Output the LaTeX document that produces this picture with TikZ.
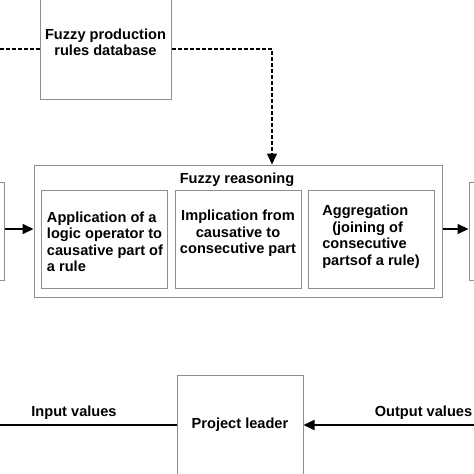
\documentclass[tikz,border=0pt]{standalone}
\usepackage{fontspec}
\setmainfont{Liberation Sans}
\usetikzlibrary{arrows.meta}
\definecolor{boxgray}{HTML}{8E8E8E}
\begin{document}
\begin{tikzpicture}[x=1pt,y=-1pt,
  font=\bfseries\fontsize{14.6}{16.5}\selectfont,
  gbox/.style={draw=boxgray,line width=1pt,inner sep=0pt,fill=none},
  conn/.style={draw=black,line width=1.6pt},
  tip/.style={-{Triangle[length=11pt,width=10pt]}},
  dashline/.style={conn,dash pattern=on 4pt off 2pt},
  txt/.style={inner sep=0pt,align=center}]
\useasboundingbox (0,0) rectangle (474,474);
\clip (0,0) rectangle (474,474);
% boxes
\node[gbox,minimum width=131pt,minimum height=113pt] (db) at (105.5,42.5) {};
\node[txt] (dbt) at (105.5,42.5) {Fuzzy production\\rules database};
\node[gbox,minimum width=408pt,minimum height=132pt] (reason) at (238,231) {};
\node[txt] (rtitle) at (237,180) {Fuzzy reasoning};
\node[gbox,minimum width=126pt,minimum height=98pt] (b1) at (104,239) {};
\node[gbox,minimum width=126pt,minimum height=98pt] (b2) at (238,239) {};
\node[gbox,minimum width=126pt,minimum height=98pt] (b3) at (371,239) {};
\node[txt,align=left] (b1t) at (105,242) {Application of a\\logic operator to\\causative part of\\a rule};
\node[txt] (b2t) at (238,233.5) {Implication from\\causative to\\consecutive part};
\node[txt,align=left] (b3t) at (371,236.5) {Aggregation\\\hspace{10pt}(joining of\\consecutive\\partsof a rule)};
\node[gbox,minimum width=64pt,minimum height=98pt] (lb) at (-28,231) {};
\node[gbox,minimum width=64pt,minimum height=98pt] (rb) at (501,231) {};
\node[gbox,minimum width=126pt,minimum height=125pt] (pl) at (240,437.5) {};
\node[txt] (plt) at (240,425) {Project leader};
\node[txt] (inlab) at (74,413) {Input values};
\node[txt] (outlab) at (423.5,413) {Output values};
% coordinates
\coordinate (dl) at (0,49);
\coordinate (dc) at (272,49);
\coordinate (inl) at (0,425);
\coordinate (outr) at (474,425);
% connectors
\draw[dashline] (dl) -- (dl -| db.west);
\draw[dashline,tip] (dc -| db.east) -- (dc) -- (dc |- reason.north);
\draw[conn,tip] (lb.east |- 0,229) -- (reason.west |- 0,229);
\draw[conn,tip] (reason.east |- 0,229) -- (rb.west |- 0,229);
\draw[conn] (inl) -- (inl -| pl.west);
\draw[conn,tip] (outr) -- (outr -| pl.east);
\end{tikzpicture}
\end{document}
